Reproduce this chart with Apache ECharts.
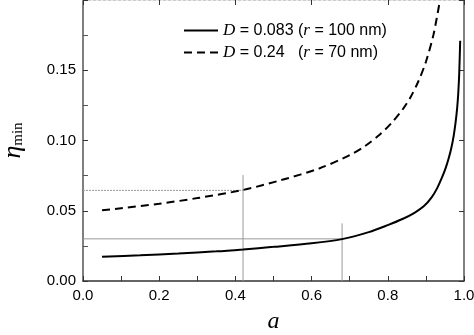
<!DOCTYPE html>
<html><head><meta charset="utf-8">
<script src="https://cdn.jsdelivr.net/npm/echarts@6/dist/echarts.min.js"></script>
<style>html,body{margin:0;padding:0;background:#fff}#c{width:474px;height:335px}</style>
</head><body><div id="c"></div>
<script>
// D = 0.083 (r = 100 nm), solid
const solidA   = [0.05, 0.15, 0.25, 0.35, 0.42, 0.5, 0.6, 0.68, 0.75, 0.80, 0.84, 0.87, 0.895, 0.915, 0.93, 0.942, 0.952, 0.96, 0.967, 0.973, 0.978, 0.982, 0.985, 0.9875, 0.99];
const solidEta = [0.0173, 0.0183, 0.0196, 0.0211, 0.0225, 0.0243, 0.0268, 0.0298, 0.0348, 0.0398, 0.0443, 0.0485, 0.0533, 0.0595, 0.0663, 0.0735, 0.0805, 0.0875, 0.0950, 0.1035, 0.1130, 0.1230, 0.1340, 0.1480, 0.1710];
// D = 0.24 (r = 70 nm), dashed
const dashA    = [0.05, 0.1, 0.2, 0.3, 0.42, 0.52, 0.62, 0.70, 0.74, 0.78, 0.81, 0.84, 0.86, 0.88, 0.90, 0.92, 0.937];
const dashEta  = [0.0503, 0.0518, 0.0550, 0.0590, 0.0648, 0.0718, 0.0801, 0.0896, 0.0960, 0.1045, 0.1125, 0.1225, 0.1310, 0.1420, 0.1560, 0.1755, 0.2000];
// guide lines
const guideDashH = [[0, 0.0645], [0.42, 0.0645]];
const guideDashV = [[0.42, 0], [0.42, 0.0754]];
const guideSolidH = [[0, 0.030], [0.68, 0.030]];
const guideSolidV = [[0.68, 0], [0.68, 0.041]];
const xTicks = [0.0, 0.2, 0.4, 0.6, 0.8, 1.0];
const yTicks = [0.00, 0.05, 0.10, 0.15];
const legendNames = ['D = 0.083 (r = 100 nm)', 'D = 0.24   (r = 70 nm)'];

const zip = (a, b) => a.map((v, i) => [v, b[i]]);
const chart = echarts.init(document.getElementById('c'));
const lab = {color:'#000', fontFamily:'Liberation Sans, Arial, sans-serif', fontSize:15};
const axisCommon = {
  axisTick:{inside:true, length:5, lineStyle:{color:'#333'}},
  splitLine:{show:false}
};
chart.setOption({
  animation:false,
  grid:{left:83, right:10, top:0, bottom:54, containLabel:false, outerBoundsMode:'none'},
  legend:{
    left:178, top:17, orient:'vertical', itemWidth:34, itemHeight:14, itemGap:5,
    data:[legendNames[0], legendNames[1]],
    itemStyle:{color:'rgba(0,0,0,0)', borderWidth:0},
    textStyle:{fontSize:16, fontFamily:'Liberation Sans, Arial, sans-serif', color:'#000',
      rich:{i:{fontStyle:'italic', fontFamily:'Liberation Serif, Times New Roman, serif', fontSize:17, color:'#000'}}},
    formatter:function(n){
      if(n===legendNames[0]) return '{i|D} = 0.083 ({i|r} = 100 nm)';
      return '{i|D} = 0.24   ({i|r} = 70 nm)';
    }
  },
  xAxis:[{
    type:'value', min:0, max:1, interval:0.2,
    axisLine:{onZero:false, lineStyle:{color:'#333', width:1.5}},
    ...axisCommon,
    minorTick:{show:true, splitNumber:2, length:5, lineStyle:{color:'#333'}},
    axisLabel:{...lab, margin:7, formatter:v=>v.toFixed(1)},
    name:'a', nameLocation:'middle', nameGap:29,
    nameTextStyle:{fontStyle:'italic', fontFamily:'Liberation Serif, Times New Roman, serif', fontSize:24, color:'#000'}
  },{
    type:'value', min:0, max:1, interval:0.2, position:'top',
    axisLine:{onZero:false, lineStyle:{color:'#ccc', type:[3,2]}},
    ...axisCommon,
    axisLabel:{show:false}
  }],
  yAxis:[{
    type:'value', min:0, max:0.2, interval:0.05,
    axisLine:{onZero:false, lineStyle:{color:'#555', width:1.5}},
    ...axisCommon,
    minorTick:{show:true, splitNumber:2, length:5, lineStyle:{color:'#555'}},
    axisLabel:{...lab, margin:7, showMaxLabel:false, formatter:v=>v.toFixed(2)},
    name:'{e|η}{s|min}', nameLocation:'middle', nameGap:57, nameRotate:90,
    nameTextStyle:{rich:{
      e:{fontStyle:'italic', fontFamily:'Liberation Serif, Times New Roman, serif', fontSize:26, color:'#000'},
      s:{fontFamily:'Liberation Serif, Times New Roman, serif', fontSize:15, color:'#000', padding:[10,0,0,0]}
    }}
  },{
    type:'value', min:0, max:0.2, interval:0.05, position:'right',
    axisLine:{onZero:false, lineStyle:{color:'#555', width:1.5}},
    ...axisCommon,
    axisLabel:{show:false}
  }],
  series:[
    {name:legendNames[0], type:'line', data:zip(solidA, solidEta), showSymbol:false, symbol:'none', smooth:0.3,
      lineStyle:{color:'#000', width:2}, itemStyle:{color:'#000'}, z:5},
    {name:legendNames[1], type:'line', data:zip(dashA, dashEta), showSymbol:false, symbol:'none', smooth:0.3,
      lineStyle:{color:'#000', width:2, type:[8,5]}, itemStyle:{color:'#000'}, z:5},
    {type:'line', data:guideDashH, symbol:'none', lineStyle:{color:'#999', width:1, type:[2,1]}, silent:true},
    {type:'line', data:guideDashV, symbol:'none', lineStyle:{color:'#999', width:1}, silent:true},
    {type:'line', data:guideSolidH, symbol:'none', lineStyle:{color:'#999', width:1}, silent:true},
    {type:'line', data:guideSolidV, symbol:'none', lineStyle:{color:'#999', width:1}, silent:true}
  ]
});
</script></body></html>
